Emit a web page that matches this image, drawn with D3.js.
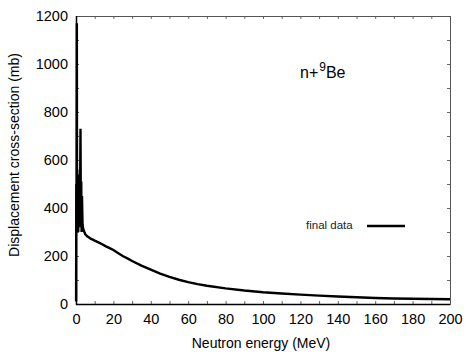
<!DOCTYPE html>
<html><head><meta charset="utf-8">
<script src="https://cdn.jsdelivr.net/npm/d3@7"></script>
<style>body{margin:0;background:#fff}svg{display:block}text{font-family:Arial,"Liberation Sans",sans-serif}</style>
</head><body><svg id="c" width="474" height="355"></svg>
<script>
const energy = [0.05,0.15,0.3,0.45,0.55,0.7,0.85,1.0,1.2,1.4,1.6,1.8,2.0,2.2,2.4,2.6,2.8,3.0,3.2,3.5,3.8,4.2,5,6,7,8,9,10,12,14,16,18,20,22,25,28,30,35,40,45,50,55,60,65,70,80,90,100,110,120,130,140,150,160,170,180,190,200];
const crossSection = [10,500,300,1170,420,560,340,520,300,500,410,540,320,480,730,370,510,300,450,330,315,305,290,282,277,271,268,264,257,249,240,233,225,215,200,188,179,160,143,127,113,101,91,83,76,65,56,49,44,39,35,31,28,25,23,22,21,20];
const xTicks = [0,20,40,60,80,100,120,140,160,180,200];
const yTicks = [0,200,400,600,800,1000,1200];
const xMinor = d3.range(0,201,10);
const yMinor = d3.range(0,1201,100);

const svg = d3.select('#c');
const L=76,R=450,T=16,B=304;
const x = d3.scaleLinear().domain([0,200]).range([L,R]);
const y = d3.scaleLinear().domain([0,1200]).range([B,T]);

const tk = svg.append('g').attr('stroke','#666').attr('stroke-width',1);
xMinor.forEach(v=>{
  tk.append('line').attr('x1',x(v)+0.5).attr('x2',x(v)+0.5).attr('y1',B).attr('y2',B-3);
  tk.append('line').attr('x1',x(v)+0.5).attr('x2',x(v)+0.5).attr('y1',T).attr('y2',T+3);
});
yMinor.forEach(v=>{
  tk.append('line').attr('y1',y(v)+0.5).attr('y2',y(v)+0.5).attr('x1',L).attr('x2',L+3);
  tk.append('line').attr('y1',y(v)+0.5).attr('y2',y(v)+0.5).attr('x1',R).attr('x2',R-3);
});

const xa = svg.append('g').attr('transform',`translate(0,${B})`)
  .call(d3.axisBottom(x).tickValues(xTicks).tickSize(0).tickPadding(10).tickFormat(d3.format('d')));
xa.select('.domain').remove();
xa.selectAll('text').attr('font-size',14.5).attr('fill','#000').attr('font-family','Arial, Liberation Sans, sans-serif');
const ya = svg.append('g').attr('transform',`translate(${L},0)`)
  .call(d3.axisLeft(y).tickValues(yTicks).tickSize(0).tickPadding(8).tickFormat(d3.format('d')));
ya.select('.domain').remove();
ya.selectAll('text').attr('font-size',14.5).attr('fill','#000').attr('font-family','Arial, Liberation Sans, sans-serif');

const line = d3.line().x((d,i)=>x(energy[i])).y(d=>y(d));
svg.append('path').datum(crossSection).attr('d',line)
  .attr('fill','none').attr('stroke','#000').attr('stroke-width',2.4).attr('stroke-linejoin','miter');

svg.append('rect').attr('x',L+0.5).attr('y',T+0.5).attr('width',R-L).attr('height',B-T)
  .attr('fill','none').attr('stroke','#555').attr('stroke-width',1);
svg.append('line').attr('x1',L+0.5).attr('x2',L+0.5).attr('y1',T).attr('y2',B+1).attr('stroke','#000').attr('stroke-width',1.5);
svg.append('line').attr('x1',L).attr('x2',R).attr('y1',B+0.5).attr('y2',B+0.5).attr('stroke','#000').attr('stroke-width',1.5);

svg.append('text').attr('x',261).attr('y',348).attr('text-anchor','middle').attr('font-size',14).text('Neutron energy (MeV)');
svg.append('text').attr('transform','translate(19,155) rotate(-90)').attr('text-anchor','middle').attr('font-size',14).text('Displacement cross-section (mb)');

const ann = svg.append('text').attr('x',300).attr('y',78).attr('font-size',16);
ann.append('tspan').text('n+');
ann.append('tspan').attr('font-size',12).attr('dy',-7).attr('dx',1).text('9');
ann.append('tspan').attr('dy',7).text('Be');

svg.append('text').attr('x',306).attr('y',229).attr('font-size',11.5).attr('fill','#222').text('final data');
svg.append('line').attr('x1',367).attr('x2',405).attr('y1',226).attr('y2',226).attr('stroke','#000').attr('stroke-width',2.4);
</script></body></html>
